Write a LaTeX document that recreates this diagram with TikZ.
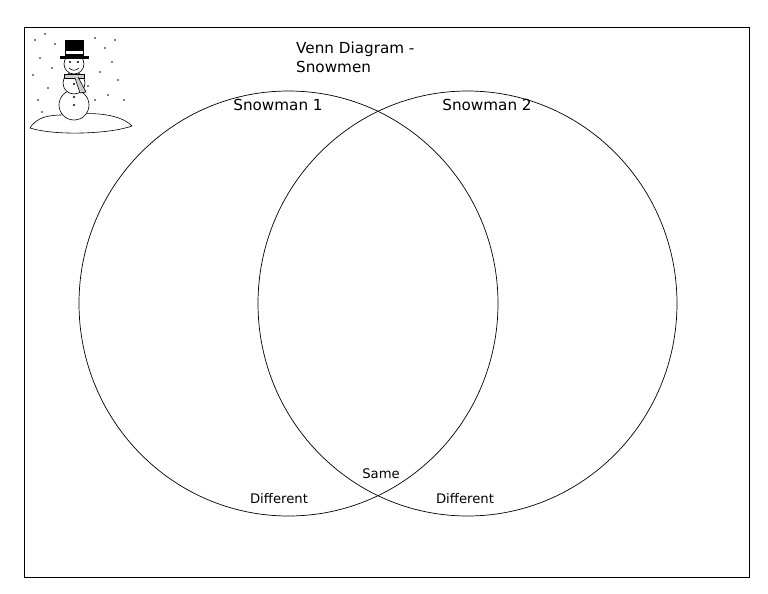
\documentclass[tikz,border=0pt]{standalone}
\usepackage{fontspec}
\setmainfont{DejaVu Sans}
\begin{document}
\begin{tikzpicture}[x=1pt,y=-1pt,
  lbl/.style={font=\fontsize{15.2}{19}\selectfont, inner sep=0},
  sml/.style={font=\fontsize{13.2}{15}\selectfont, inner sep=0},
  venn/.style={draw=black, line width=0.7pt}]
\useasboundingbox (0,0) rectangle (768,594);
\draw[line width=0.8pt] (24,27) rectangle (749,577);
\draw[venn] (288.5,303.5) ellipse [x radius=209.5, y radius=212.5];
\draw[venn] (467.5,303.5) ellipse [x radius=209.5, y radius=212.5];
\node[lbl, anchor=north west, align=left] (title) at (296,42) {Venn Diagram -\\Snowmen};
\node[lbl] (s1) at (278,105) {Snowman 1};
\node[lbl] (s2) at (487,105) {Snowman 2};
\node[sml] (same) at (381,474) {Same};
\node[sml] (d1) at (279,499) {Different};
\node[sml] (d2) at (465,499) {Different};
% snowman clipart
\begin{scope}[line width=0.6pt]
\draw[fill=white] (30,128) .. controls (40,112) and (60,116) .. (80,114) .. controls (105,112) and (125,118) .. (132,126) .. controls (110,134) and (55,136) .. (30,128) -- cycle;
\draw[fill=white] (74,105) circle [radius=15];
\draw[fill=white] (74,83) circle [radius=11];
\draw[fill=white] (74,64) circle [radius=10];
\draw[fill=black] (60,56) rectangle (88,58);
\draw[fill=black] (65,40) rectangle (83,56);
\draw[fill=white] (65,50) rectangle (83,54);
\fill (70,62) circle [radius=1.2] (78,62) circle [radius=1.2];
\draw (69,68) .. controls (72,71) and (76,71) .. (79,68);
\draw[fill=gray!40] (64,74) -- (84,74) -- (84,78) -- (64,78) -- cycle;
\draw[fill=gray!40] (78,77) -- (86,92) -- (80,93) -- (75,78);
\fill (74,84) circle [radius=1.2] (74,97) circle [radius=1.2] (74,105) circle [radius=1.2];
\foreach \p in {(35,40),(45,34),(55,44),(40,58),(33,75),(48,88),(38,100),(95,38),(105,48),(112,62),(100,72),(118,80),(108,95),(124,100),(52,68),(95,100),(42,112),(115,40),(88,86)}
  \fill \p circle [radius=0.9];
\end{scope}
\end{tikzpicture}
\end{document}
